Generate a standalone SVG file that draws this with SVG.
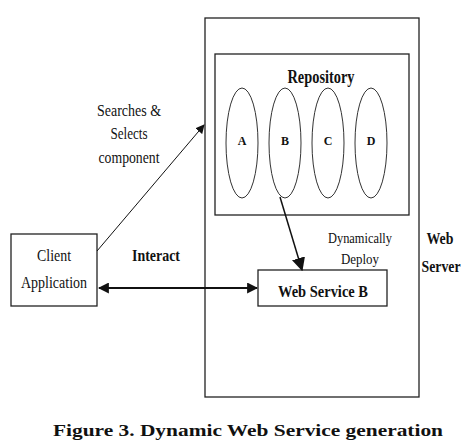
<svg xmlns="http://www.w3.org/2000/svg" width="474" height="440" viewBox="0 0 474 440">
<defs>
<style>
.box{fill:none;stroke:#222;stroke-width:1.3}
.ell{fill:none;stroke:#333;stroke-width:1}
.t{font-family:"Liberation Serif","Times New Roman",serif;fill:#111;text-anchor:middle}
.b{font-weight:bold}
</style>
<marker id="ah" viewBox="0 0 10 10" refX="9" refY="5" markerWidth="5" markerHeight="5" orient="auto-start-reverse" markerUnits="strokeWidth">
<path d="M0,0 L10,5 L0,10 Z" fill="#111"/>
</marker>
<marker id="ah1" viewBox="0 0 10 10" refX="9" refY="5" markerWidth="9" markerHeight="9" orient="auto" markerUnits="strokeWidth">
<path d="M0,0 L10,5 L0,10 Z" fill="#111"/>
</marker>
</defs>
<rect width="474" height="440" fill="#fff"/>
<g id="web-server">
<rect class="box" x="205" y="18" width="214" height="379"/>
<text class="t b" x="440" y="244" font-size="17" textLength="27" lengthAdjust="spacingAndGlyphs">Web</text>
<text class="t b" x="441" y="272" font-size="17" textLength="39" lengthAdjust="spacingAndGlyphs">Server</text>
</g>
<g id="repository">
<rect class="box" x="215" y="54" width="194" height="161"/>
<text class="t b" x="321" y="83" font-size="19" textLength="67" lengthAdjust="spacingAndGlyphs">Repository</text>
</g>
<g id="comp-a"><ellipse class="ell" cx="242" cy="143" rx="16" ry="55"/><text class="t b" x="242" y="145" font-size="12">A</text></g>
<g id="comp-b"><ellipse class="ell" cx="285" cy="143" rx="16" ry="55"/><text class="t b" x="285" y="145" font-size="12">B</text></g>
<g id="comp-c"><ellipse class="ell" cx="328" cy="143" rx="16" ry="55"/><text class="t b" x="328" y="145" font-size="12">C</text></g>
<g id="comp-d"><ellipse class="ell" cx="371" cy="143" rx="16" ry="55"/><text class="t b" x="371" y="145" font-size="12">D</text></g>
<g id="client">
<rect class="box" x="11" y="234" width="86" height="72"/>
<text class="t" x="54" y="261" font-size="16" textLength="34" lengthAdjust="spacingAndGlyphs">Client</text>
<text class="t" x="54" y="288" font-size="16" textLength="66" lengthAdjust="spacingAndGlyphs">Application</text>
</g>
<g id="web-service-b">
<rect class="box" x="258" y="270" width="129" height="36"/>
<text class="t b" x="323" y="297" font-size="16" textLength="90" lengthAdjust="spacingAndGlyphs">Web Service B</text>
</g>
<g id="connectors">
<line x1="97" y1="251" x2="204" y2="125" stroke="#111" stroke-width="1" marker-end="url(#ah1)"/>
<line x1="99" y1="288" x2="257" y2="288" stroke="#111" stroke-width="2.2" marker-start="url(#ah)" marker-end="url(#ah)"/>
<line x1="280" y1="197" x2="302" y2="270" stroke="#111" stroke-width="1.5" marker-end="url(#ah1)"/>
</g>
<g id="labels">
<text class="t" x="129" y="116" font-size="16" textLength="64" lengthAdjust="spacingAndGlyphs">Searches &amp;</text>
<text class="t" x="129" y="139" font-size="16" textLength="37" lengthAdjust="spacingAndGlyphs">Selects</text>
<text class="t" x="129" y="163" font-size="16" textLength="61" lengthAdjust="spacingAndGlyphs">component</text>
<text class="t b" x="156" y="261" font-size="16" textLength="48" lengthAdjust="spacingAndGlyphs">Interact</text>
<text class="t" x="360" y="243" font-size="15" textLength="64" lengthAdjust="spacingAndGlyphs">Dynamically</text>
<text class="t" x="360" y="264" font-size="15" textLength="38" lengthAdjust="spacingAndGlyphs">Deploy</text>
<text class="t b" x="248" y="436" font-size="17" textLength="390" lengthAdjust="spacingAndGlyphs">Figure 3. Dynamic Web Service generation</text>
</g>
</svg>
